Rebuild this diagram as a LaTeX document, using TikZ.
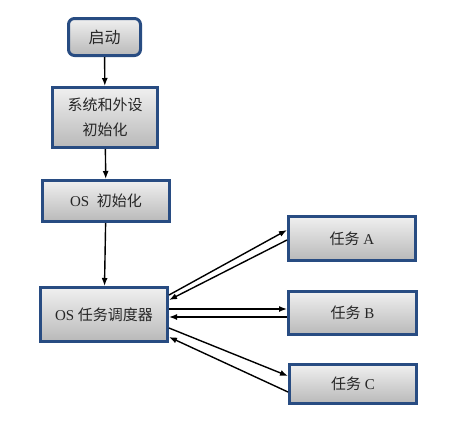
\documentclass[tikz,border=0pt]{standalone}
\usepackage{fontspec}
\setmainfont{Liberation Serif}
\newfontfamily\cjk{Noto Sans CJK SC}
\usepackage{tikz}
\usetikzlibrary{arrows.meta}
\definecolor{boxblue}{RGB}{40,76,130}

\begin{document}
\begin{tikzpicture}
			[x=1pt,y=-1pt,
			every node/.style={draw=boxblue,line width=3pt,top color=gray!12,bottom color=gray!55,
				inner sep=0pt,align=center,text=black!85,font=\fontsize{15}{25}\selectfont},
			edge/.style={->,> = {Latex[length=8pt,width=6pt]},line width=1.4pt}]
			\useasboundingbox (0,0) rectangle (474,421);
			\node[rounded corners=6pt,minimum width=72pt,minimum height=37pt,font=\fontsize{16}{25}\selectfont] (start) at (104.5,37) {\cjk 启动};
			\node[minimum width=105pt,minimum height=60pt] (sysinit) at (105,117.5) {\cjk 系统和外设\\\cjk 初始化};
			\node[minimum width=127pt,minimum height=41pt] (osinit) at (106,201) {OS\ \ {\cjk 初始化}};
			\node[minimum width=127pt,minimum height=54pt] (sched) at (104,314.5) {OS {\cjk 任务调度器}};
			\node[minimum width=127pt,minimum height=44pt] (taskA) at (352,238.5) {{\cjk 任务} A};
			\node[minimum width=128pt,minimum height=43pt] (taskB) at (352.5,313) {{\cjk 任务} B};
			\node[minimum width=127pt,minimum height=39pt] (taskC) at (353,384) {{\cjk 任务} C};
			
			\foreach \from/\to in {start/sysinit,sysinit/osinit,osinit/sched}
			\draw[edge] (\from) to (\to);

			\foreach \from/\fa/\fs/\to/\ta/\ts in {sched/east/19.5/taskA/west/8.5,taskA/west/-1.5/sched/east/14.5,
				sched/east/5.5/taskB/west/4,taskB/west/-4/sched/east/-2.5,
				sched/east/-13.5/taskC/west/8,taskC/west/-8/sched/east/-22.5}
			\draw[edge] ([yshift=\fs pt]\from.\fa) to ([yshift=\ts pt]\to.\ta);

			\end{tikzpicture}
\end{document}
